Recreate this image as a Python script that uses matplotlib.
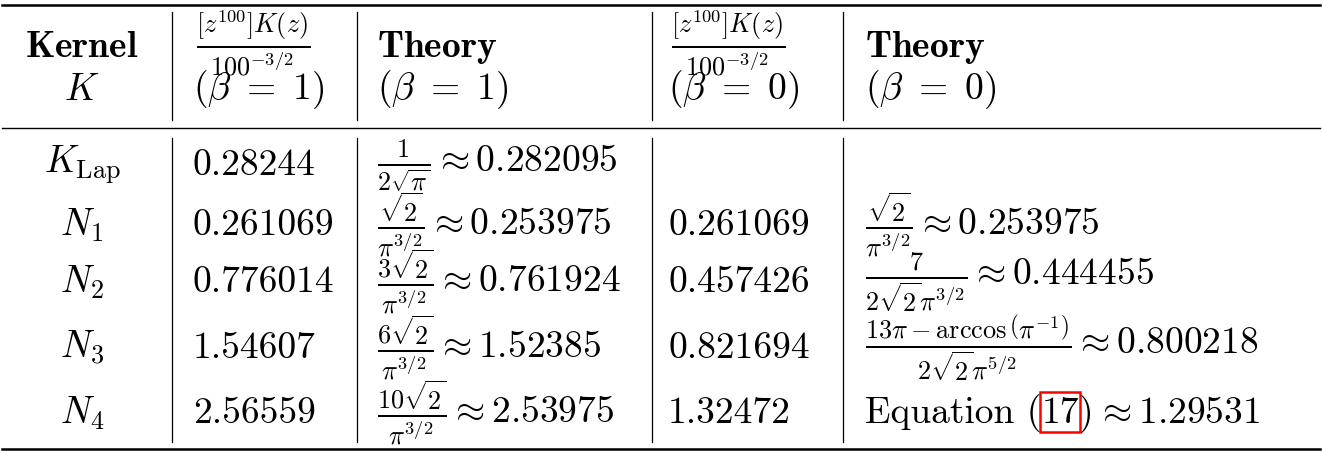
import matplotlib.pyplot as plt
from matplotlib.patches import Rectangle

plt.rcParams['mathtext.fontset'] = 'cm'
plt.rcParams['font.family'] = 'serif'
plt.rcParams['font.serif'] = ['cmr10']

# table content
kernels = [r'$K_{\mathrm{Lap}}$', r'$N_1$', r'$N_2$', r'$N_3$', r'$N_4$']
coef_b1 = ['0.28244', '0.261069', '0.776014', '1.54607', '2.56559']
theory_b1 = [r'$\frac{1}{2\sqrt{\pi}} \approx 0.282095$',
             r'$\frac{\sqrt{2}}{\pi^{3/2}} \approx 0.253975$',
             r'$\frac{3\sqrt{2}}{\pi^{3/2}} \approx 0.761924$',
             r'$\frac{6\sqrt{2}}{\pi^{3/2}} \approx 1.52385$',
             r'$\frac{10\sqrt{2}}{\pi^{3/2}} \approx 2.53975$']
coef_b0 = ['', '0.261069', '0.457426', '0.821694', '1.32472']
theory_b0 = ['',
             r'$\frac{\sqrt{2}}{\pi^{3/2}} \approx 0.253975$',
             r'$\frac{7}{2\sqrt{2}\pi^{3/2}} \approx 0.444455$',
             r'$\frac{13\pi-\arccos\left(\pi^{-1}\right)}{2\sqrt{2}\pi^{5/2}} \approx 0.800218$',
             None]  # last one drawn with the red reference box
eq_ref = '17'
eq_val = r'$\approx 1.29531$'

W, H = 1322, 454
fig = plt.figure(figsize=(W / 100, H / 100), dpi=100)
ax = fig.add_axes([0, 0, 1, 1])
ax.set_xlim(0, W)
ax.set_ylim(H, 0)
ax.axis('off')

fs = 27
# rules
ax.plot([2, 1320], [5, 5], color='k', lw=1.8)
ax.plot([2, 1320], [128, 128], color='k', lw=1.0)
ax.plot([2, 1320], [449, 449], color='k', lw=1.8)
for x in [172, 357, 652, 843]:
    ax.plot([x, x], [12, 120], color='k', lw=0.9)
    ax.plot([x, x], [138, 442], color='k', lw=0.9)

# header
frac = r'$\frac{[z^{100}]K(z)}{100^{-3/2}}$'
b1 = r'$(\beta\ =\ 1)$'
b0 = r'$(\beta\ =\ 0)$'
ax.text(82, 47, r'$\mathbf{Kernel}$', fontsize=fs, ha='center', va='center')
ax.text(82, 90, r'$K$', fontsize=fs, ha='center', va='center')
ax.text(196, 44, frac, fontsize=fs, ha='left', va='center')
ax.text(193, 90, b1, fontsize=fs, ha='left', va='center')
ax.text(377, 47, r'$\mathbf{Theory}$', fontsize=fs, ha='left', va='center')
ax.text(377, 90, b1, fontsize=fs, ha='left', va='center')
ax.text(671, 44, frac, fontsize=fs, ha='left', va='center')
ax.text(668, 90, b0, fontsize=fs, ha='left', va='center')
ax.text(865, 47, r'$\mathbf{Theory}$', fontsize=fs, ha='left', va='center')
ax.text(865, 90, b0, fontsize=fs, ha='left', va='center')

rows_y = [165, 225, 282, 348, 413]
for i, y in enumerate(rows_y):
    ax.text(82, y, kernels[i], fontsize=fs, ha='center', va='center')
    ax.text(193, y, coef_b1[i], fontsize=fs, ha='left', va='center')
    ax.text(377, y, theory_b1[i], fontsize=fs, ha='left', va='center')
    if coef_b0[i]:
        ax.text(668, y, coef_b0[i], fontsize=fs, ha='left', va='center')
    if theory_b0[i]:
        ax.text(865, y, theory_b0[i], fontsize=fs, ha='left', va='center')

# last theory cell: Equation (17) with red box around the reference
y = rows_y[-1]
fig.canvas.draw()
r = fig.canvas.get_renderer()
t1 = ax.text(865, y, 'Equation (', fontsize=fs, ha='left', va='center')
x = t1.get_window_extent(r).x1
t2 = ax.text(x, y, eq_ref, fontsize=fs, ha='left', va='center')
bb = t2.get_window_extent(r)
ax.add_patch(Rectangle((bb.x0 - 1, H - bb.y1 - 4), bb.width + 2, bb.height + 6,
                       fill=False, edgecolor='red', lw=1.8))
t3 = ax.text(bb.x1, y, ')', fontsize=fs, ha='left', va='center')
x = t3.get_window_extent(r).x1
ax.text(x + 2, y, eq_val, fontsize=fs, ha='left', va='center')

fig.savefig('out.png', dpi=100)
